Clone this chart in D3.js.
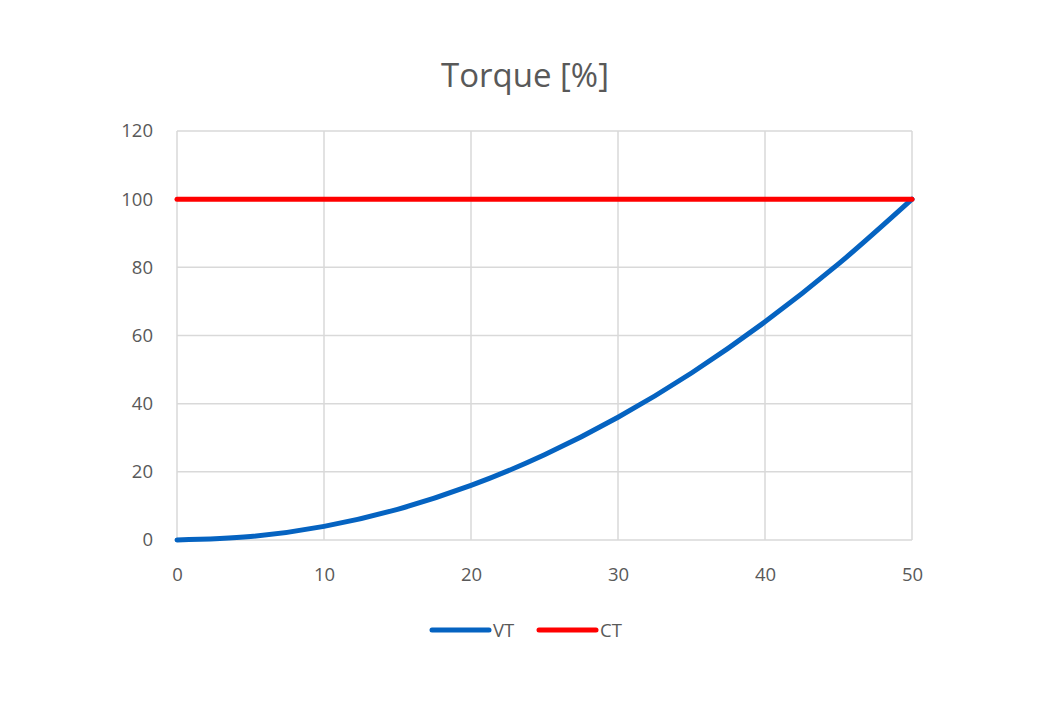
<!DOCTYPE html>
<html>
<head>
<meta charset="utf-8">
<script src="https://cdn.jsdelivr.net/npm/d3@7"></script>
<style>
  body { margin: 0; background: #fff; }
  text { font-family: "Open Sans", "DejaVu Sans", sans-serif; fill: #595959; }
</style>
</head>
<body>
<div class="chart"></div>
<script>
// Torque [%] - variable torque vs constant torque
var xValues = [0, 5, 10, 15, 20, 25, 30, 35, 40, 45, 50];
var vtValues = [0, 1, 4, 9, 16, 25, 36, 49, 64, 81, 100];
var ctValues = [100, 100, 100, 100, 100, 100, 100, 100, 100, 100, 100];
var xTicks = [0, 10, 20, 30, 40, 50];
var yTicks = [0, 20, 40, 60, 80, 100, 120];
var seriesNames = ["VT", "CT"];
var seriesColors = ["#0563c1", "#ff0000"];

var svgWidth = 1050, svgHeight = 705;
var margin = {top: 131, right: 138, bottom: 165, left: 177};
var width = svgWidth - margin.left - margin.right;
var height = svgHeight - margin.top - margin.bottom;

var svg = d3.select(".chart").append("svg").attr("width", svgWidth).attr("height", svgHeight);
var chartGroup = svg.append("g").attr("transform", `translate(${margin.left}, ${margin.top})`);

var x = d3.scaleLinear().domain([0, 50]).range([0, width]);
var y = d3.scaleLinear().domain([0, 120]).range([height, 0]);

// gridlines
chartGroup.append("g").selectAll("line").data(yTicks).enter().append("line")
  .attr("x1", 0).attr("x2", width)
  .attr("y1", d => y(d)).attr("y2", d => y(d))
  .attr("stroke", "#d9d9d9").attr("stroke-width", 1.5);
chartGroup.append("g").selectAll("line").data(xTicks).enter().append("line")
  .attr("y1", 0).attr("y2", height)
  .attr("x1", d => x(d)).attr("x2", d => x(d))
  .attr("stroke", "#d9d9d9").attr("stroke-width", 1.5);

// axes (labels only)
var bottomAxis = d3.axisBottom(x).tickValues(xTicks).tickSize(0).tickPadding(28);
var leftAxis = d3.axisLeft(y).tickValues(yTicks).tickSize(0).tickPadding(24);
var gx = chartGroup.append("g").attr("transform", `translate(0, ${height})`).call(bottomAxis);
var gy = chartGroup.append("g").call(leftAxis);
[gx, gy].forEach(function(g) {
  g.select(".domain").remove();
  g.selectAll("text").attr("font-size", "18.5px").attr("fill", "#595959")
    .attr("font-family", "'Open Sans', sans-serif");
});

// lines
var line = d3.line().x((d, i) => x(xValues[i])).y(d => y(d)).curve(d3.curveMonotoneX);
[vtValues, ctValues].forEach(function(vals, i) {
  chartGroup.append("path").datum(vals)
    .attr("d", line)
    .attr("fill", "none")
    .attr("stroke", seriesColors[i])
    .attr("stroke-width", 5)
    .attr("stroke-linecap", "round");
});

// title
svg.append("text").attr("x", 525).attr("y", 87).attr("text-anchor", "middle")
  .attr("font-size", "33px").text("Torque [%]");

// legend
var legendX = [432, 539];
seriesNames.forEach(function(name, i) {
  var lg = svg.append("g").attr("transform", `translate(${legendX[i]}, 630)`);
  lg.append("line").attr("x1", 0).attr("x2", 57).attr("y1", 0).attr("y2", 0)
    .attr("stroke", seriesColors[i]).attr("stroke-width", 5).attr("stroke-linecap", "round");
  lg.append("text").attr("x", 61).attr("y", 7).attr("font-size", "18.5px").text(name);
});
</script>
</body>
</html>
